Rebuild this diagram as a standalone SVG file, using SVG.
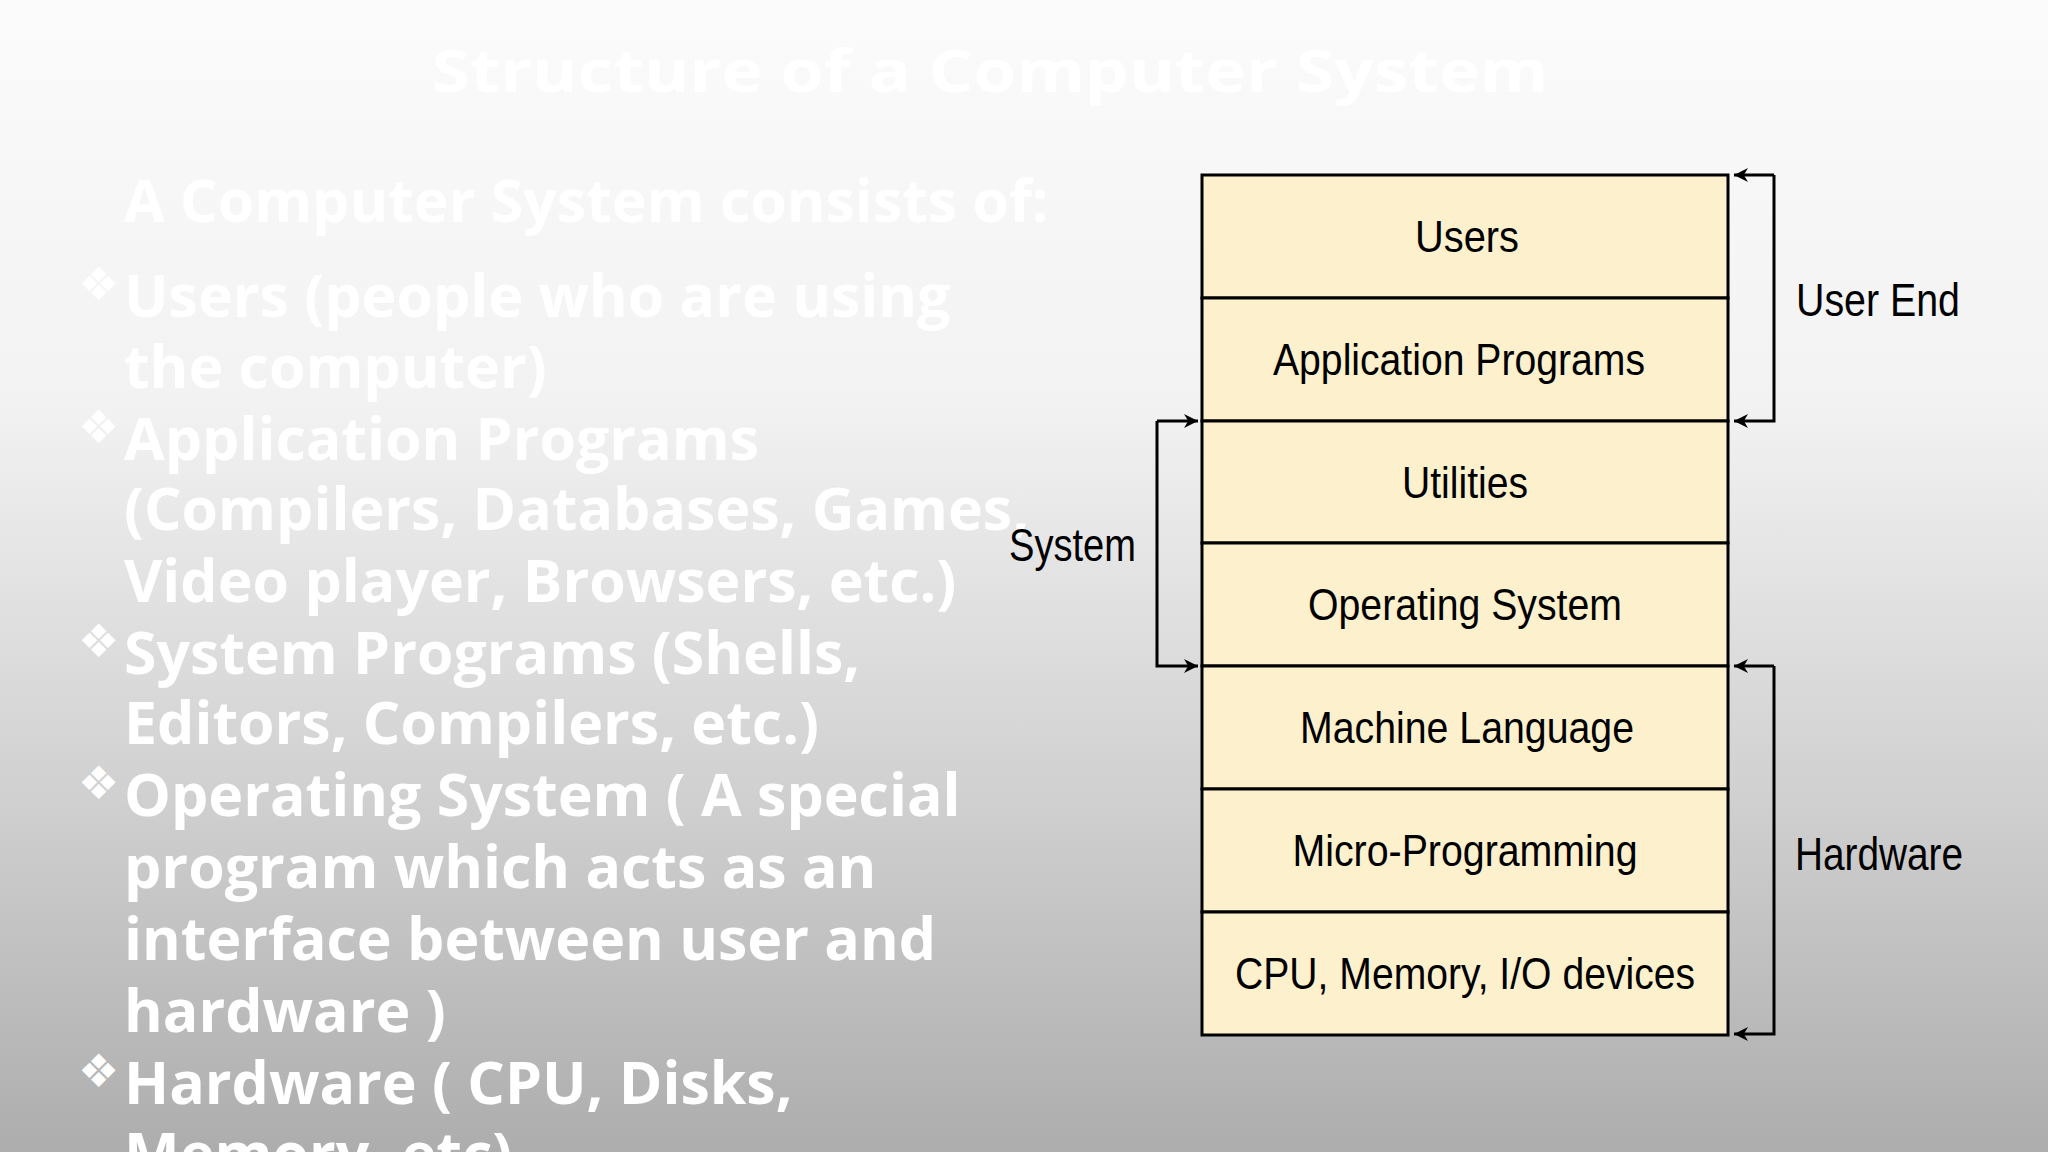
<svg xmlns="http://www.w3.org/2000/svg" width="2048" height="1152" viewBox="0 0 2048 1152">
<defs>
<linearGradient id="bg" x1="0" y1="0" x2="0" y2="1">
<stop offset="0" stop-color="#fbfbfb"/><stop offset="0.35" stop-color="#f2f2f2"/><stop offset="0.7" stop-color="#cfcfcf"/><stop offset="1" stop-color="#adadad"/>
</linearGradient>
<marker id="ah" viewBox="0 0 10 10" refX="10" refY="5" markerWidth="14" markerHeight="14" orient="auto" markerUnits="userSpaceOnUse"><path d="M0,0 L10,5 L0,10 L3,5 z" fill="#000"/></marker>
<style>
.cell{fill:#fdf1cd;stroke:#000;stroke-width:3}
.ct{font-family:"Liberation Sans",Arial,sans-serif;font-size:44px;fill:#000;text-anchor:middle}
.lab{font-family:"Liberation Sans",Arial,sans-serif;font-size:46px;fill:#000}
.bl{font-family:"Open Sans","Noto Sans",sans-serif;font-weight:bold;font-size:59px;fill:#fff}
.bu{font-family:"DejaVu Sans",sans-serif;font-size:46px;fill:#fff}
.conn{fill:none;stroke:#000;stroke-width:3}
</style>
</defs>
<rect width="2048" height="1152" fill="url(#bg)"/>
<text x="990" y="92" text-anchor="middle" class="bl" font-size="66" textLength="1117" lengthAdjust="spacingAndGlyphs">Structure of a Computer System</text>
<g id="bullets">
<text x="124" y="222" class="bl">A Computer System consists of:</text>
<text x="78" y="300" class="bu">❖</text><text x="124" y="317" class="bl">Users (people who are using</text>
<text x="124" y="388" class="bl">the computer)</text>
<text x="78" y="443" class="bu">❖</text><text x="124" y="460" class="bl">Application Programs</text>
<text x="124" y="530" class="bl">(Compilers, Databases, Games,</text>
<text x="124" y="602" class="bl">Video player, Browsers, etc.)</text>
<text x="78" y="657" class="bu">❖</text><text x="124" y="674" class="bl">System Programs (Shells,</text>
<text x="124" y="744" class="bl">Editors, Compilers, etc.)</text>
<text x="78" y="799" class="bu">❖</text><text x="124" y="816" class="bl">Operating System ( A special</text>
<text x="124" y="888" class="bl">program which acts as an</text>
<text x="124" y="960" class="bl">interface between user and</text>
<text x="124" y="1032" class="bl">hardware )</text>
<text x="78" y="1087" class="bu">❖</text><text x="124" y="1104" class="bl">Hardware ( CPU, Disks,</text>
<text x="124" y="1175" class="bl">Memory, etc)</text>
</g>
<g id="n1"><rect class="cell" x="1202" y="175" width="526" height="123"/><text class="ct" x="1467" y="252" textLength="104" lengthAdjust="spacingAndGlyphs">Users</text></g>
<g id="n2"><rect class="cell" x="1202" y="298" width="526" height="123"/><text class="ct" x="1459" y="375" textLength="372" lengthAdjust="spacingAndGlyphs">Application Programs</text></g>
<g id="n3"><rect class="cell" x="1202" y="421" width="526" height="122"/><text class="ct" x="1465" y="498" textLength="126" lengthAdjust="spacingAndGlyphs">Utilities</text></g>
<g id="n4"><rect class="cell" x="1202" y="543" width="526" height="123"/><text class="ct" x="1465" y="620" textLength="314" lengthAdjust="spacingAndGlyphs">Operating System</text></g>
<g id="n5"><rect class="cell" x="1202" y="666" width="526" height="123"/><text class="ct" x="1467" y="743" textLength="334" lengthAdjust="spacingAndGlyphs">Machine Language</text></g>
<g id="n6"><rect class="cell" x="1202" y="789" width="526" height="123"/><text class="ct" x="1465" y="866" textLength="345" lengthAdjust="spacingAndGlyphs">Micro-Programming</text></g>
<g id="n7"><rect class="cell" x="1202" y="912" width="526" height="123"/><text class="ct" x="1465" y="989" textLength="460" lengthAdjust="spacingAndGlyphs">CPU, Memory, I/O devices</text></g>
<g id="connectors">
<path class="conn" d="M1774,175 H1734" marker-end="url(#ah)"/>
<path class="conn" d="M1774,175 V421 H1734" marker-end="url(#ah)"/>
<path class="conn" d="M1774,666 H1734" marker-end="url(#ah)"/>
<path class="conn" d="M1774,666 V1034 H1734" marker-end="url(#ah)"/>
<path class="conn" d="M1157,421 H1198" marker-end="url(#ah)"/>
<path class="conn" d="M1157,421 V666 H1198" marker-end="url(#ah)"/>
</g>
<g id="labels">
<text class="lab" x="1796" y="316" textLength="164" lengthAdjust="spacingAndGlyphs">User End</text>
<text class="lab" x="1795" y="870" textLength="168" lengthAdjust="spacingAndGlyphs">Hardware</text>
<text class="lab" x="1009" y="561" textLength="127" lengthAdjust="spacingAndGlyphs">System</text>
</g>
</svg>
